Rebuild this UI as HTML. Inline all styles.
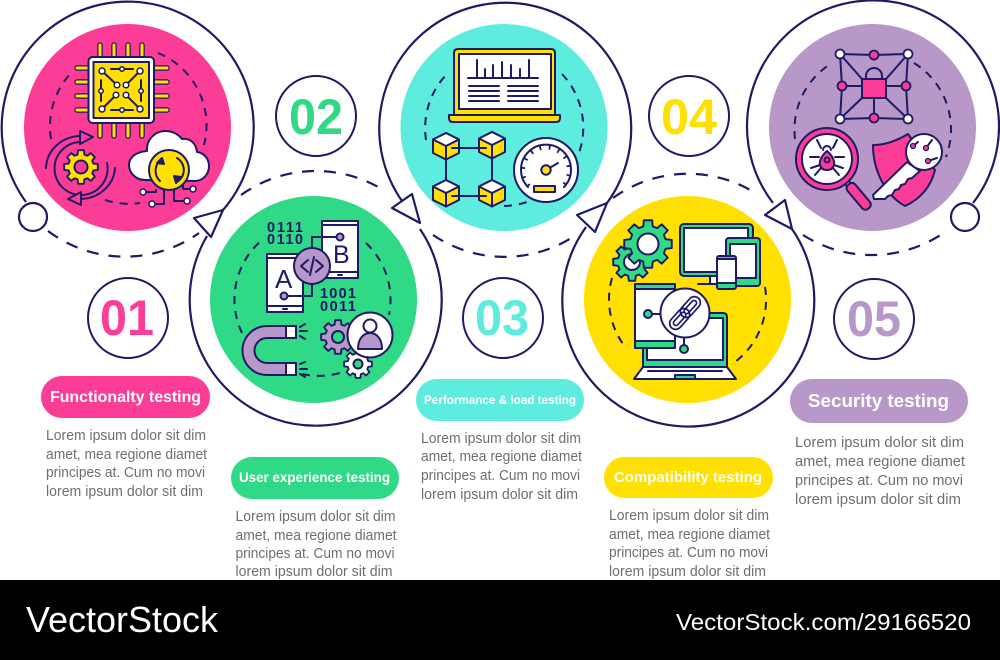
<!DOCTYPE html>
<html><head><meta charset="utf-8"><style>
html,body{margin:0;padding:0;background:#fff}
svg{display:block}
.l{fill:none;stroke:#1d1a66;stroke-width:2;stroke-linecap:round;stroke-linejoin:round}
.r{fill:none;stroke:#1d1a66;stroke-width:2.200}
.d{fill:none;stroke:#1d1a66;stroke-width:2.200;stroke-dasharray:12 10}
.i{fill:none;stroke:#1d1a66;stroke-width:2;stroke-dasharray:8 7}
.f{stroke:#1d1a66;stroke-width:2;stroke-linejoin:round}
.b{font-family:"Liberation Sans",sans-serif;font-size:14.500px;fill:#6d6e71}
.p{font-family:"Liberation Sans",sans-serif;font-weight:bold;fill:#fff}
.n{font-family:"Liberation Sans",sans-serif;font-weight:bold;font-size:50px}
.bin{font-family:"Liberation Sans",sans-serif;font-weight:bold;font-size:14.500px;fill:#1d1a66}
</style></head><body>
<svg width="1000" height="660" viewBox="0 0 1000 660" xmlns="http://www.w3.org/2000/svg">
<defs>
<path id="g" d="M66 38L82 57L57 82L38 66L20 73L17 99L-17 99L-20 73L-38 66L-57 82L-82 57L-66 38L-73 20L-99 17L-99 -17L-73 -20L-66 -38L-82 -57L-57 -82L-38 -66L-20 -73L-17 -99L17 -99L20 -73L38 -66L57 -82L82 -57L66 -38L73 -20L99 -17L99 17L73 20Z" stroke-linejoin="round" stroke="#1d1a66"/>
<g id="cube">
<path class="f" fill="#ffe000" d="M0-13L13-6.500V7L0 13.500L-13 7V-6.500Z"/>
<path class="f" fill="#fff" d="M0-13L13-6.500L0 0L-13-6.500Z"/>
<path class="l" d="M0 0V13.500"/>
</g>
</defs>
<rect width="1000" height="660" fill="#fff"/>

<!-- fills -->
<circle cx="127.500" cy="127.500" r="103.500" fill="#fb3d97"/>
<circle cx="313.500" cy="299.500" r="103.500" fill="#2fd985"/>
<circle cx="504" cy="127.500" r="103.500" fill="#5eecdf"/>
<circle cx="687.500" cy="299.500" r="103.500" fill="#ffe000"/>
<circle cx="872.500" cy="127.500" r="103.500" fill="#b898c9"/>

<!-- rings -->
<path class="r" d="M26 202A126 126 0 1 1 223 210"/>
<path class="r" d="M207 236A126 126 0 1 0 420 229"/>
<path class="r" d="M402 201A126 126 0 1 1 607 203"/>
<path class="r" d="M586 227A126 126 0 1 0 792 229"/>
<path class="r" d="M773 203A126 126 0 1 1 973 203"/>
<circle class="r" cx="33" cy="217" r="14" style="fill:#fff"/>
<circle class="r" cx="965" cy="217" r="14" style="fill:#fff"/>
<path class="d" d="M48 231A128 128 0 0 0 199 233"/>
<path class="d" d="M241 195A129 129 0 0 1 385 191"/>
<path class="d" d="M433 235A128 128 0 0 0 573 237"/>
<path class="d" d="M613 198A128 128 0 0 1 757 194"/>
<path class="d" d="M803 235A128 128 0 0 0 945 232"/>
<g fill="#fff" stroke="#1d1a66" stroke-width="2.200" stroke-linejoin="round">
<path d="M194 218L223 210L211 237Z"/>
<path d="M392 208L412 194L420 223Z"/>
<path d="M577 215L607 203L595 232Z"/>
<path d="M765 215L785 200L792 229Z"/>
</g>

<!-- ICON 1 -->
<path class="i" d="M51 139A78 78 0 0 1 72 72"/>
<path class="i" d="M158 53A78 78 0 0 1 204 145"/>
<path class="i" d="M105 200A78 78 0 0 0 140 203"/>
<g stroke="#1d1a66" stroke-width="5.500" stroke-linecap="round">
<path d="M100 45V136M114 45V136M128 45V136M142 45V136M77 68H167M77 82H167M77 96H167M77 110H167"/>
</g>
<g stroke="#ffe000" stroke-width="3" stroke-linecap="round">
<path d="M100 45V136M114 45V136M128 45V136M142 45V136M77 68H167M77 82H167M77 96H167M77 110H167"/>
</g>
<rect class="f" x="88.500" y="57" width="65.500" height="66" rx="4" fill="#fff"/>
<rect class="f" x="93.500" y="62" width="55.500" height="56" fill="#ffe000"/>
<path class="l" d="M102 71L117 85M140 71L126 85M102 109L116 95M140 109L126 95M111 69H133M111 110H133M101 80V101M141 80V101"/>
<g fill="#fff" stroke="#1d1a66" stroke-width="1.500">
<circle cx="102" cy="71" r="3"/><circle cx="140" cy="71" r="3"/><circle cx="102" cy="109" r="3"/><circle cx="140" cy="109" r="3"/>
<circle cx="117" cy="85" r="2.800"/><circle cx="126" cy="85" r="2.800"/><circle cx="116" cy="95" r="2.800"/><circle cx="126" cy="95" r="2.800"/>
<circle cx="122" cy="69" r="2.200"/><circle cx="122" cy="110" r="2.200"/><circle cx="101" cy="91" r="2.200"/><circle cx="141" cy="91" r="2.200"/>
</g>
<path class="l" d="M46 168A35 33 0 0 1 82 136"/>
<path class="l" d="M115 168A35 33 0 0 1 80 199"/>
<path class="l" d="M81 142A26.500 26.500 0 1 0 107 163"/>
<path class="f" fill="#fb3d97" d="M80 131L93 137L80 144Z"/>
<path class="f" fill="#fb3d97" d="M81 192L68 199L81 205Z"/>
<use href="#g" transform="translate(81,167) scale(.17)" fill="#ffe000" stroke-width="11"/>
<circle class="f" cx="81" cy="167" r="6.500" fill="#fb3d97"/>
<path class="f" fill="#fff" d="M145 180C135 180 129 172 129 165C129 158 135 152 147 151C146 140 155 131 165 131C172 131 178 134 182 139C190 138 196 143 197 152C205 153 209 160 209 166C209 174 203 181 195 181Z"/>
<path class="l" d="M156 190V192H146M164 190V204H155M174 190V201H184M183 185V189H190"/>
<g fill="#fff" stroke="#1d1a66" stroke-width="1.500">
<circle cx="143" cy="192" r="3"/><circle cx="152" cy="204" r="3"/><circle cx="187" cy="201" r="3"/><circle cx="193" cy="189" r="3"/>
</g>
<circle class="f" cx="169" cy="170" r="20" fill="#ffe000"/>
<path class="l" d="M160 181A14 14 0 0 1 162 159M177 158A14 14 0 0 1 177 182"/>
<path class="f" fill="#1d1a66" d="M157 163L162 158L164 164ZM181 177L176 183L174 176Z"/>

<!-- ICON 2 -->
<path class="i" d="M242 333A78 78 0 0 1 262 240"/>
<path class="i" d="M366 243A78 78 0 0 1 389 315"/>
<path class="i" d="M302 374A78 78 0 0 0 343 372"/>
<text class="bin" x="267" y="232" textLength="36">0111</text>
<text class="bin" x="267" y="244" textLength="36">0110</text>
<text class="bin" x="320" y="298" textLength="36">1001</text>
<text class="bin" x="320" y="311" textLength="36">0011</text>
<rect class="f" x="322" y="221" width="36" height="57" fill="#fff"/>
<path class="l" d="M322 225H358M322 272H358M338 275H342"/>
<text x="333" y="263" font-family="Liberation Sans,sans-serif" font-size="25" fill="#1d1a66">B</text>
<rect class="f" x="267" y="254" width="36" height="58" fill="#fff"/>
<path class="l" d="M267 258H303M267 306H303M283 309H287"/>
<text x="275" y="288" font-family="Liberation Sans,sans-serif" font-size="26" fill="#1d1a66">A</text>
<path class="l" d="M340 237H312V248M284 296H312V283"/>
<circle class="f" cx="340" cy="237" r="3.500" fill="#b898c9"/>
<circle class="f" cx="284" cy="296" r="3.500" fill="#b898c9"/>
<circle class="f" cx="312" cy="266" r="18" fill="#b898c9"/>
<path class="l" d="M308 260L301 266L308 272M316 260L323 266L316 272M314 257L310 275"/>
<path class="f" fill="#b898c9" d="M296 326H267A24.500 24.500 0 0 0 267 375H296V363H267A12.500 12.500 0 0 1 267 338H296Z"/>
<rect class="f" x="286" y="326" width="10" height="12" fill="#fff"/>
<rect class="f" x="286" y="363" width="10" height="12" fill="#fff"/>
<path class="l" d="M300 327L305 324M300 331H307M300 336L305 339M300 364L305 362M300 369H307M300 374L305 377"/>
<use href="#g" transform="translate(338,337) scale(.17)" fill="#b898c9" stroke-width="11"/>
<circle class="f" cx="338" cy="337" r="6" fill="#2fd985"/>
<use href="#g" transform="translate(358,364) scale(.14)" fill="#fff" stroke-width="13"/>
<circle class="f" cx="358" cy="364" r="4.500" fill="#2fd985"/>
<circle class="f" cx="370" cy="335" r="22.500" fill="#fff"/>
<circle class="f" cx="370" cy="326" r="6.500" fill="#fff"/>
<path class="f" fill="#b898c9" d="M358 349C358 338 364 333 370 333C376 333 382 338 382 349Z"/>

<!-- ICON 3 -->
<path class="i" d="M426 140A78 78 0 0 1 449 72"/>
<path class="i" d="M562 74A78 78 0 0 1 579 153"/>
<path class="i" d="M504 206A78 78 0 0 0 527 202"/>
<path class="f" fill="#ffe000" d="M454 115V53Q454 49 458 49H551Q555 49 555 53V115Z"/>
<rect class="f" x="459" y="54" width="92" height="55" fill="#fff"/>
<path class="f" fill="#ffe000" d="M449 115H560V118Q560 122 556 122H453Q449 122 449 118Z"/>
<path class="l" d="M468 78H538M477 78V60M485 78V69M493 78V65M502 78V62M511 78V65M520 78V69M529 78V60M469 86H499M469 91H499M469 96H499M469 101H499M508 86H538M508 91H538M508 96H538M508 101H538"/>
<path class="l" d="M452 148H486M452 196H486M446 159V180M492 159V180"/>
<use href="#cube" x="446" y="146"/>
<use href="#cube" x="492" y="145"/>
<use href="#cube" x="446" y="193"/>
<use href="#cube" x="492" y="193"/>
<path class="l" d="M452 148H470M452 196H470M486 148H474M486 196H474"/>
<circle class="f" cx="546" cy="170" r="32" fill="#fff"/>
<path class="l" d="M528 187A25 25 0 1 1 564 187"/>
<path fill="none" stroke="#1d1a66" stroke-width="4" stroke-dasharray="1.800 7.500" d="M529 186A23 23 0 1 1 563 186"/>
<path class="l" d="M546 170L558 163"/>
<circle class="f" cx="546" cy="170" r="4.700" fill="#ffe000"/>
<rect class="f" x="534" y="186" width="21" height="6" fill="#ffe000"/>

<!-- ICON 4 -->
<path class="i" d="M612 278A78 78 0 0 0 626 348"/>
<path class="i" d="M765 287A78 78 0 0 1 735 362"/>
<use href="#g" transform="translate(632,262) scale(.19)" fill="#2fd985" stroke-width="10"/>
<circle class="f" cx="632" cy="262" r="8" fill="#fff"/>
<use href="#g" transform="translate(648,244) scale(.24)" fill="#2fd985" stroke-width="8"/>
<circle class="f" cx="648" cy="244" r="10.500" fill="#fff"/>
<rect class="f" x="680" y="224" width="73" height="52" rx="4" fill="#2fd985"/>
<rect class="f" x="684" y="228" width="64" height="44" fill="#fff"/>
<path class="f" fill="#fff" d="M710 276H717V284H710Z"/>
<path class="l" d="M698 284H717"/>
<rect class="f" x="726" y="238" width="34" height="48" rx="3" fill="#2fd985"/>
<rect class="f" x="730" y="244" width="26" height="34" fill="#fff"/>
<rect class="f" x="717" y="256" width="19" height="33" rx="2" fill="#2fd985"/>
<rect x="718" y="259" width="17" height="24" fill="#fff"/>
<path class="l" d="M717 259H736M717 283H736"/>
<path class="f" fill="#2fd985" d="M643 367V317Q643 313 647 313H723Q727 313 727 317V367Z"/>
<rect class="f" x="647" y="318" width="76" height="42" fill="#fff"/>
<path class="f" fill="#fff" d="M643 367H727L736 379H634Z"/>
<path class="l" d="M648 371H722"/>
<path class="f" fill="#2fd985" d="M675 379V375H695V379Z"/>
<rect class="f" x="635" y="284" width="40" height="64" rx="1" fill="#fff"/>
<rect class="f" x="635" y="284" width="40" height="5" fill="#2fd985"/>
<rect class="f" x="635" y="341" width="40" height="7" fill="#2fd985"/>
<path class="l" d="M648 314H662M684 349V336"/>
<circle class="f" cx="648" cy="314" r="4" fill="#2fd985"/>
<circle class="f" cx="684" cy="349" r="4" fill="#2fd985"/>
<circle class="f" cx="685" cy="313" r="24.500" fill="#fff"/>
<g transform="rotate(-48 685 313)" fill="none" stroke="#1d1a66" stroke-width="1.700">
<rect x="665" y="307" width="24" height="12" rx="6"/><rect x="681" y="307" width="24" height="12" rx="6"/>
<rect x="669" y="310.500" width="16" height="5" rx="2.500"/><rect x="685" y="310.500" width="16" height="5" rx="2.500"/>
</g>

<!-- ICON 5 -->
<path class="i" d="M795 139A78 78 0 0 1 832 63"/>
<path class="i" d="M914 63A78 78 0 0 1 946 157"/>
<path class="l" d="M840 54L874 55L908 54L906 86L908 119L874 118L840 119L842 86ZM840 54L862 79M908 54L886 79M840 119L862 98M908 119L886 98M842 86H862M886 86H906M874 98V118"/>
<path class="l" d="M866 79V76A8 8 0 0 1 882 76V79"/>
<rect class="f" x="862" y="79" width="24" height="19" fill="#fb3d97"/>
<g fill="#fb3d97" stroke="#1d1a66" stroke-width="1.800">
<circle cx="874" cy="55" r="4.500"/><circle cx="842" cy="86" r="4.500"/><circle cx="906" cy="86" r="4.500"/><circle cx="874" cy="118" r="4.500"/>
</g>
<g fill="#fff" stroke="#1d1a66" stroke-width="1.800">
<circle cx="840" cy="54" r="4.500"/><circle cx="908" cy="54" r="4.500"/><circle cx="840" cy="119" r="4.500"/><circle cx="908" cy="119" r="4.500"/>
</g>
<path class="f" fill="#fff" d="M844 182L848 179L852 186L848 188Z"/>
<rect class="f" x="-5" y="-2" width="10" height="31" rx="4" transform="translate(850,186) rotate(-40)" fill="#fb3d97"/>
<circle class="f" cx="827" cy="159" r="31" fill="#fb3d97"/>
<circle class="f" cx="827" cy="159" r="25" fill="#fff"/>
<path class="l" d="M819 157L810 157M820 165L811 168M821 148L817 140M835 157L844 157M834 165L843 168M833 148L837 140M821 168L815 175M833 168L839 175"/>
<path class="f" fill="#fb3d97" d="M827 151C832 155 835 161 834 165C833 169 830 170 827 170C824 170 821 169 820 165C819 161 822 155 827 151Z"/>
<path class="l" d="M823 150A4 4 0 0 1 831 150"/>
<circle class="f" cx="827" cy="160" r="2.500" fill="#fb3d97"/>
<path class="f" fill="#fb3d97" d="M873 145C885 145 898 140 908 134L935 170C930 190 918 200 905 206C885 195 873 170 873 145Z"/>
<path class="f" fill="#fff" d="M907 162L873 195L874 199H885L888 196L892 195L895 190L899 189L901 185L905 184L908 179L912 178L920 171Z"/>
<circle class="f" cx="924" cy="152" r="18" fill="#fff"/>
<path class="l" d="M913 146L918 142M926 148L932 140M928 161L937 158"/>
<g fill="#fb3d97" stroke="#1d1a66" stroke-width="1.300">
<circle cx="913" cy="146" r="2.500"/><circle cx="926" cy="148" r="2.500"/><circle cx="928" cy="161" r="2.500"/>
</g>

<!-- number circles -->
<g fill="#fff" stroke="#1d1a66" stroke-width="2">
<circle cx="128" cy="318" r="40"/><circle cx="316" cy="116" r="40"/><circle cx="503" cy="318" r="40"/><circle cx="689" cy="116" r="40"/><circle cx="874" cy="319" r="40"/>
</g>
<text class="n" x="100" y="335" fill="#fb3d97" textLength="54" lengthAdjust="spacingAndGlyphs">01</text>
<text class="n" x="289" y="134" fill="#2fd985" textLength="54" lengthAdjust="spacingAndGlyphs">02</text>
<text class="n" x="475" y="335" fill="#5eecdf" textLength="54" lengthAdjust="spacingAndGlyphs">03</text>
<text class="n" x="661" y="134" fill="#ffe000" textLength="56" lengthAdjust="spacingAndGlyphs">04</text>
<text class="n" x="847" y="336" fill="#b898c9" textLength="54" lengthAdjust="spacingAndGlyphs">05</text>

<!-- pills -->
<rect x="41" y="376" width="169" height="42" rx="21" fill="#fb3d97"/>
<text class="p" x="50" y="402" font-size="15.500" textLength="151" lengthAdjust="spacingAndGlyphs">Functionalty testing</text>
<rect x="231" y="457" width="168" height="42" rx="21" fill="#2fd985"/>
<text class="p" x="239" y="482" font-size="14" textLength="151" lengthAdjust="spacingAndGlyphs">User experience testing</text>
<rect x="416" y="379" width="168" height="42" rx="21" fill="#5eecdf"/>
<text class="p" x="424" y="404" font-size="12" textLength="152" lengthAdjust="spacingAndGlyphs">Performance &amp; load testing</text>
<rect x="604" y="457" width="169" height="41" rx="20.500" fill="#ffe000"/>
<text class="p" x="614" y="482" font-size="15" textLength="148" lengthAdjust="spacingAndGlyphs">Compatibility testing</text>
<rect x="790" y="379" width="178" height="44" rx="22" fill="#b898c9"/>
<text class="p" x="808" y="407" font-size="18.500" textLength="141" lengthAdjust="spacingAndGlyphs">Security testing</text>

<!-- body -->
<g class="b">
<text x="46" y="440" textLength="160" lengthAdjust="spacingAndGlyphs">Lorem ipsum dolor sit dim</text>
<text x="46" y="459" textLength="161" lengthAdjust="spacingAndGlyphs">amet, mea regione diamet</text>
<text x="46" y="477" textLength="159" lengthAdjust="spacingAndGlyphs">principes at. Cum no movi</text>
<text x="46" y="496" textLength="157" lengthAdjust="spacingAndGlyphs">lorem ipsum dolor sit dim</text>
<text x="235.500" y="521" textLength="160" lengthAdjust="spacingAndGlyphs">Lorem ipsum dolor sit dim</text>
<text x="235.500" y="540" textLength="161" lengthAdjust="spacingAndGlyphs">amet, mea regione diamet</text>
<text x="235.500" y="558" textLength="159" lengthAdjust="spacingAndGlyphs">principes at. Cum no movi</text>
<text x="235.500" y="576" textLength="157" lengthAdjust="spacingAndGlyphs">lorem ipsum dolor sit dim</text>
<text x="421" y="443" textLength="160" lengthAdjust="spacingAndGlyphs">Lorem ipsum dolor sit dim</text>
<text x="421" y="461" textLength="161" lengthAdjust="spacingAndGlyphs">amet, mea regione diamet</text>
<text x="421" y="480" textLength="159" lengthAdjust="spacingAndGlyphs">principes at. Cum no movi</text>
<text x="421" y="499" textLength="157" lengthAdjust="spacingAndGlyphs">lorem ipsum dolor sit dim</text>
<text x="609" y="520" textLength="160" lengthAdjust="spacingAndGlyphs">Lorem ipsum dolor sit dim</text>
<text x="609" y="539" textLength="161" lengthAdjust="spacingAndGlyphs">amet, mea regione diamet</text>
<text x="609" y="557" textLength="159" lengthAdjust="spacingAndGlyphs">principes at. Cum no movi</text>
<text x="609" y="576" textLength="157" lengthAdjust="spacingAndGlyphs">lorem ipsum dolor sit dim</text>
<text x="795" y="447" textLength="169" lengthAdjust="spacingAndGlyphs">Lorem ipsum dolor sit dim</text>
<text x="795" y="466" textLength="170" lengthAdjust="spacingAndGlyphs">amet, mea regione diamet</text>
<text x="795" y="485" textLength="168" lengthAdjust="spacingAndGlyphs">principes at. Cum no movi</text>
<text x="795" y="504" textLength="166" lengthAdjust="spacingAndGlyphs">lorem ipsum dolor sit dim</text>
</g>

<!-- footer -->
<rect x="0" y="580" width="1000" height="80" fill="#000"/>
<text x="26" y="632" font-family="Liberation Sans,sans-serif" font-size="36" fill="#fff" textLength="192" lengthAdjust="spacingAndGlyphs">VectorStock</text>
<text x="676" y="630" font-family="Liberation Sans,sans-serif" font-size="23" fill="#fff" textLength="295" lengthAdjust="spacingAndGlyphs">VectorStock.com/29166520</text>
</svg>
</body></html>
